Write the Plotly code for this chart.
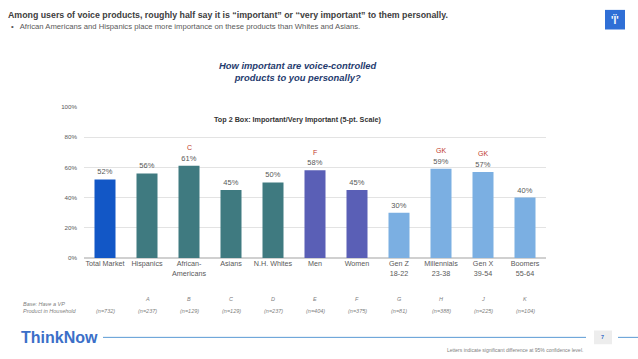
import plotly.graph_objects as go

categories = ["Total Market", "Hispanics", "African-<br>Americans", "Asians", "N.H. Whites",
              "Men", "Women", "Gen Z<br>18-22", "Millennials<br>23-38", "Gen X<br>39-54", "Boomers<br>55-64"]
values = [52, 56, 61, 45, 50, 58, 45, 30, 59, 57, 40]
sig_letters = ["", "", "C", "", "", "F", "", "", "GK", "GK", ""]
group_letters = ["", "A", "B", "C", "D", "E", "F", "G", "H", "J", "K"]
base_n = [732, 237, 129, 129, 237, 404, 375, 81, 388, 225, 104]
colors = ["#1257C6"] + ["#3F7A80"] * 4 + ["#5A5FB6"] * 2 + ["#7BAFE2"] * 4
y_ticks = [0, 20, 40, 60, 80, 100]

FONT = "Arial, Liberation Sans, sans-serif"
GRAY = "#595959"
W, H = 638, 359

def pap(px, py):
    return px / W, 1 - py / H

fig = go.Figure()
fig.add_trace(go.Bar(
    x=categories, y=values, marker=dict(color=colors, line=dict(width=0)),
    text=[f"{v}%" for v in values], textposition="outside",
    textfont=dict(size=7.5, color=GRAY, family=FONT), cliponaxis=False,
    hoverinfo="skip",
))

annotations = []
for c, v, s in zip(categories, values, sig_letters):
    if s:
        annotations.append(dict(x=c, y=v, xref="x", yref="y", text=s, showarrow=False,
                                yanchor="middle", yshift=18,
                                font=dict(size=7, color="#C0392B", family=FONT)))
for c, g, n in zip(categories, group_letters, base_n):
    if g:
        annotations.append(dict(x=c, y=pap(0, 300.5)[1], xref="x", yref="paper", text=f"<i>{g}</i>",
                                showarrow=False, yanchor="middle",
                                font=dict(size=5.5, color="#808080", family=FONT)))
    annotations.append(dict(x=c, y=pap(0, 313)[1], xref="x", yref="paper", text=f"<i>(n={n})</i>",
                            showarrow=False, yanchor="middle",
                            font=dict(size=5.5, color="#808080", family=FONT)))

def txt(px, py, text, size, color, xanchor="left", align="left"):
    x, y = pap(px, py)
    annotations.append(dict(x=x, y=y, xref="paper", yref="paper", xanchor=xanchor, yanchor="middle",
                            text=text, align=align, showarrow=False,
                            font=dict(size=size, color=color, family=FONT)))

txt(6, 11, "<b>Among users of voice products, roughly half say it is “important” or ‘‘very important” to them personally.</b>",
    8.8, "#404040")
txt(9, 23, "•   African Americans and Hispanics place more importance on these products than Whites and Asians.",
    7.7, "#595959")
txt(298, 69, "<b><i>How important are voice-controlled<br>products to you personally?</i></b>", 9.4, "#1F3B6E",
    xanchor="center", align="center")
txt(297, 118, "<b>Top 2 Box: Important/Very Important (5-pt. Scale)</b>", 7.2, "#333333", xanchor="center")
txt(21, 309.5, "<i>Base: Have a VP<br>Product in Household</i>", 5.5, "#808080")
txt(19, 340, "<b>ThinkNow</b>", 16, "#3B6FC8")
txt(585, 353, "Letters indicate significant difference at 95% confidence level.", 5, "#808080", xanchor="right")
txt(602.5, 340, "<b>7</b>", 5.5, "#3B6FC8", xanchor="center")
txt(615, 16, "<b>'Ï'</b>", 10, "white", xanchor="center")

shapes = []
def rect_px(x0, y0, x1, y1, **kw):
    a, b = pap(x0, y0)
    c, d = pap(x1, y1)
    shapes.append(dict(type="rect", xref="paper", yref="paper", x0=a, y0=d, x1=c, y1=b, **kw))
def line_px(x0, y0, x1, y1, color, w=1):
    a, b = pap(x0, y0)
    c, d = pap(x1, y1)
    shapes.append(dict(type="line", xref="paper", yref="paper", x0=a, y0=b, x1=c, y1=d,
                       line=dict(color=color, width=w)))

rect_px(605, 6, 625, 26, fillcolor="#2F6FD6", line=dict(width=0))
line_px(103, 340, 586, 340, "#5B9BD5", 1)
line_px(618, 340, 638, 340, "#5B9BD5", 1)
rect_px(594, 333, 612, 347, fillcolor="#EDEDED", line=dict(width=0), layer="below")

fig.update_layout(
    width=W, height=H, margin=dict(l=0, r=0, t=0, b=0),
    paper_bgcolor="white", plot_bgcolor="white", showlegend=False,
    bargap=0.5, annotations=annotations, shapes=shapes,
    font=dict(family=FONT),
    xaxis=dict(domain=[84 / W, 546 / W], tickfont=dict(size=7.2, color=GRAY, family=FONT),
               showline=False, ticks="", fixedrange=True),
    yaxis=dict(domain=[pap(0, 259)[1], pap(0, 105)[1]], range=[0, 100], tickvals=y_ticks,
               ticktext=[f"{t}%" for t in y_ticks],
               tickfont=dict(size=6.2, color=GRAY, family=FONT), showgrid=True, gridcolor="#E3E3E3",
               gridwidth=1, zeroline=True, zerolinecolor="#D0D0D0", ticks="", ticklabelstandoff=6,
               fixedrange=True),
)

fig.write_html("out.html", config={"displayModeBar": False, "staticPlot": True},
               post_script="document.body.style.margin='0';document.body.style.padding='0';")
